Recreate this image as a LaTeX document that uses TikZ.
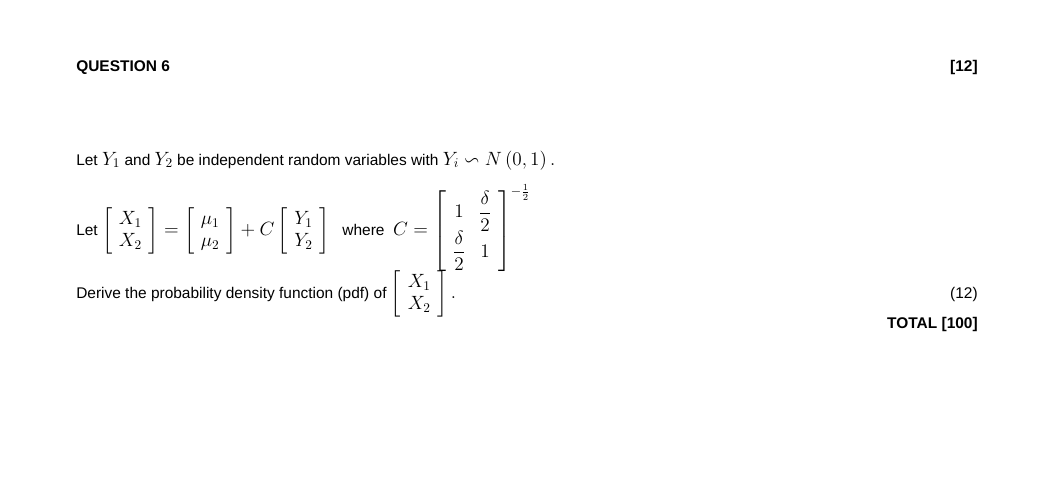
\documentclass[tikz,border=0pt]{standalone}
\usepackage{amsmath,amssymb}
\usepackage{fontspec}
\setmainfont{Liberation Sans}
\newcommand{\bm}[1]{{\fontsize{14.5}{17}\selectfont$#1$}}
\begin{document}
\begin{tikzpicture}[x=0.75pt,y=-0.75pt,
  txt/.style={anchor=base west,inner sep=0pt,font=\fontsize{11.6}{13}\selectfont},
  rtxt/.style={anchor=base east,inner sep=0pt,font=\fontsize{11.6}{13}\selectfont}]
\useasboundingbox (0,0) rectangle (1053,492);
\node[txt] (q) at (76,72) {\textbf{QUESTION 6}};
\node[rtxt] (m) at (978,72) {\textbf{[12]}};
\node[txt] (l1) at (76,165) {Let \bm{Y_1} and \bm{Y_2} be independent random variables with \bm{Y_i \backsim N\left(0,1\right).}};
\node[txt,anchor=west] (l2) at (76,228) {Let \bm{\left[\begin{array}{c} X_1\\ X_2\end{array}\right]=\left[\begin{array}{c} \mu_1\\ \mu_2\end{array}\right]+C\left[\begin{array}{c} Y_1\\ Y_2\end{array}\right]} \ \ where \ \bm{C=\left[\begin{array}{cc} 1 & \dfrac{\delta}{2}\\[3pt] \dfrac{\delta}{2} & 1\end{array}\right]^{-\frac{1}{2}}}};
\node[txt,anchor=west] (l3) at (76,294) {Derive the probability density function (pdf) of \bm{\left[\begin{array}{c} X_1\\ X_2\end{array}\right].}};
\node[rtxt] (p) at (978,298) {(12)};
\node[rtxt] (t) at (978,328) {\textbf{TOTAL [100]}};
\end{tikzpicture}
\end{document}
